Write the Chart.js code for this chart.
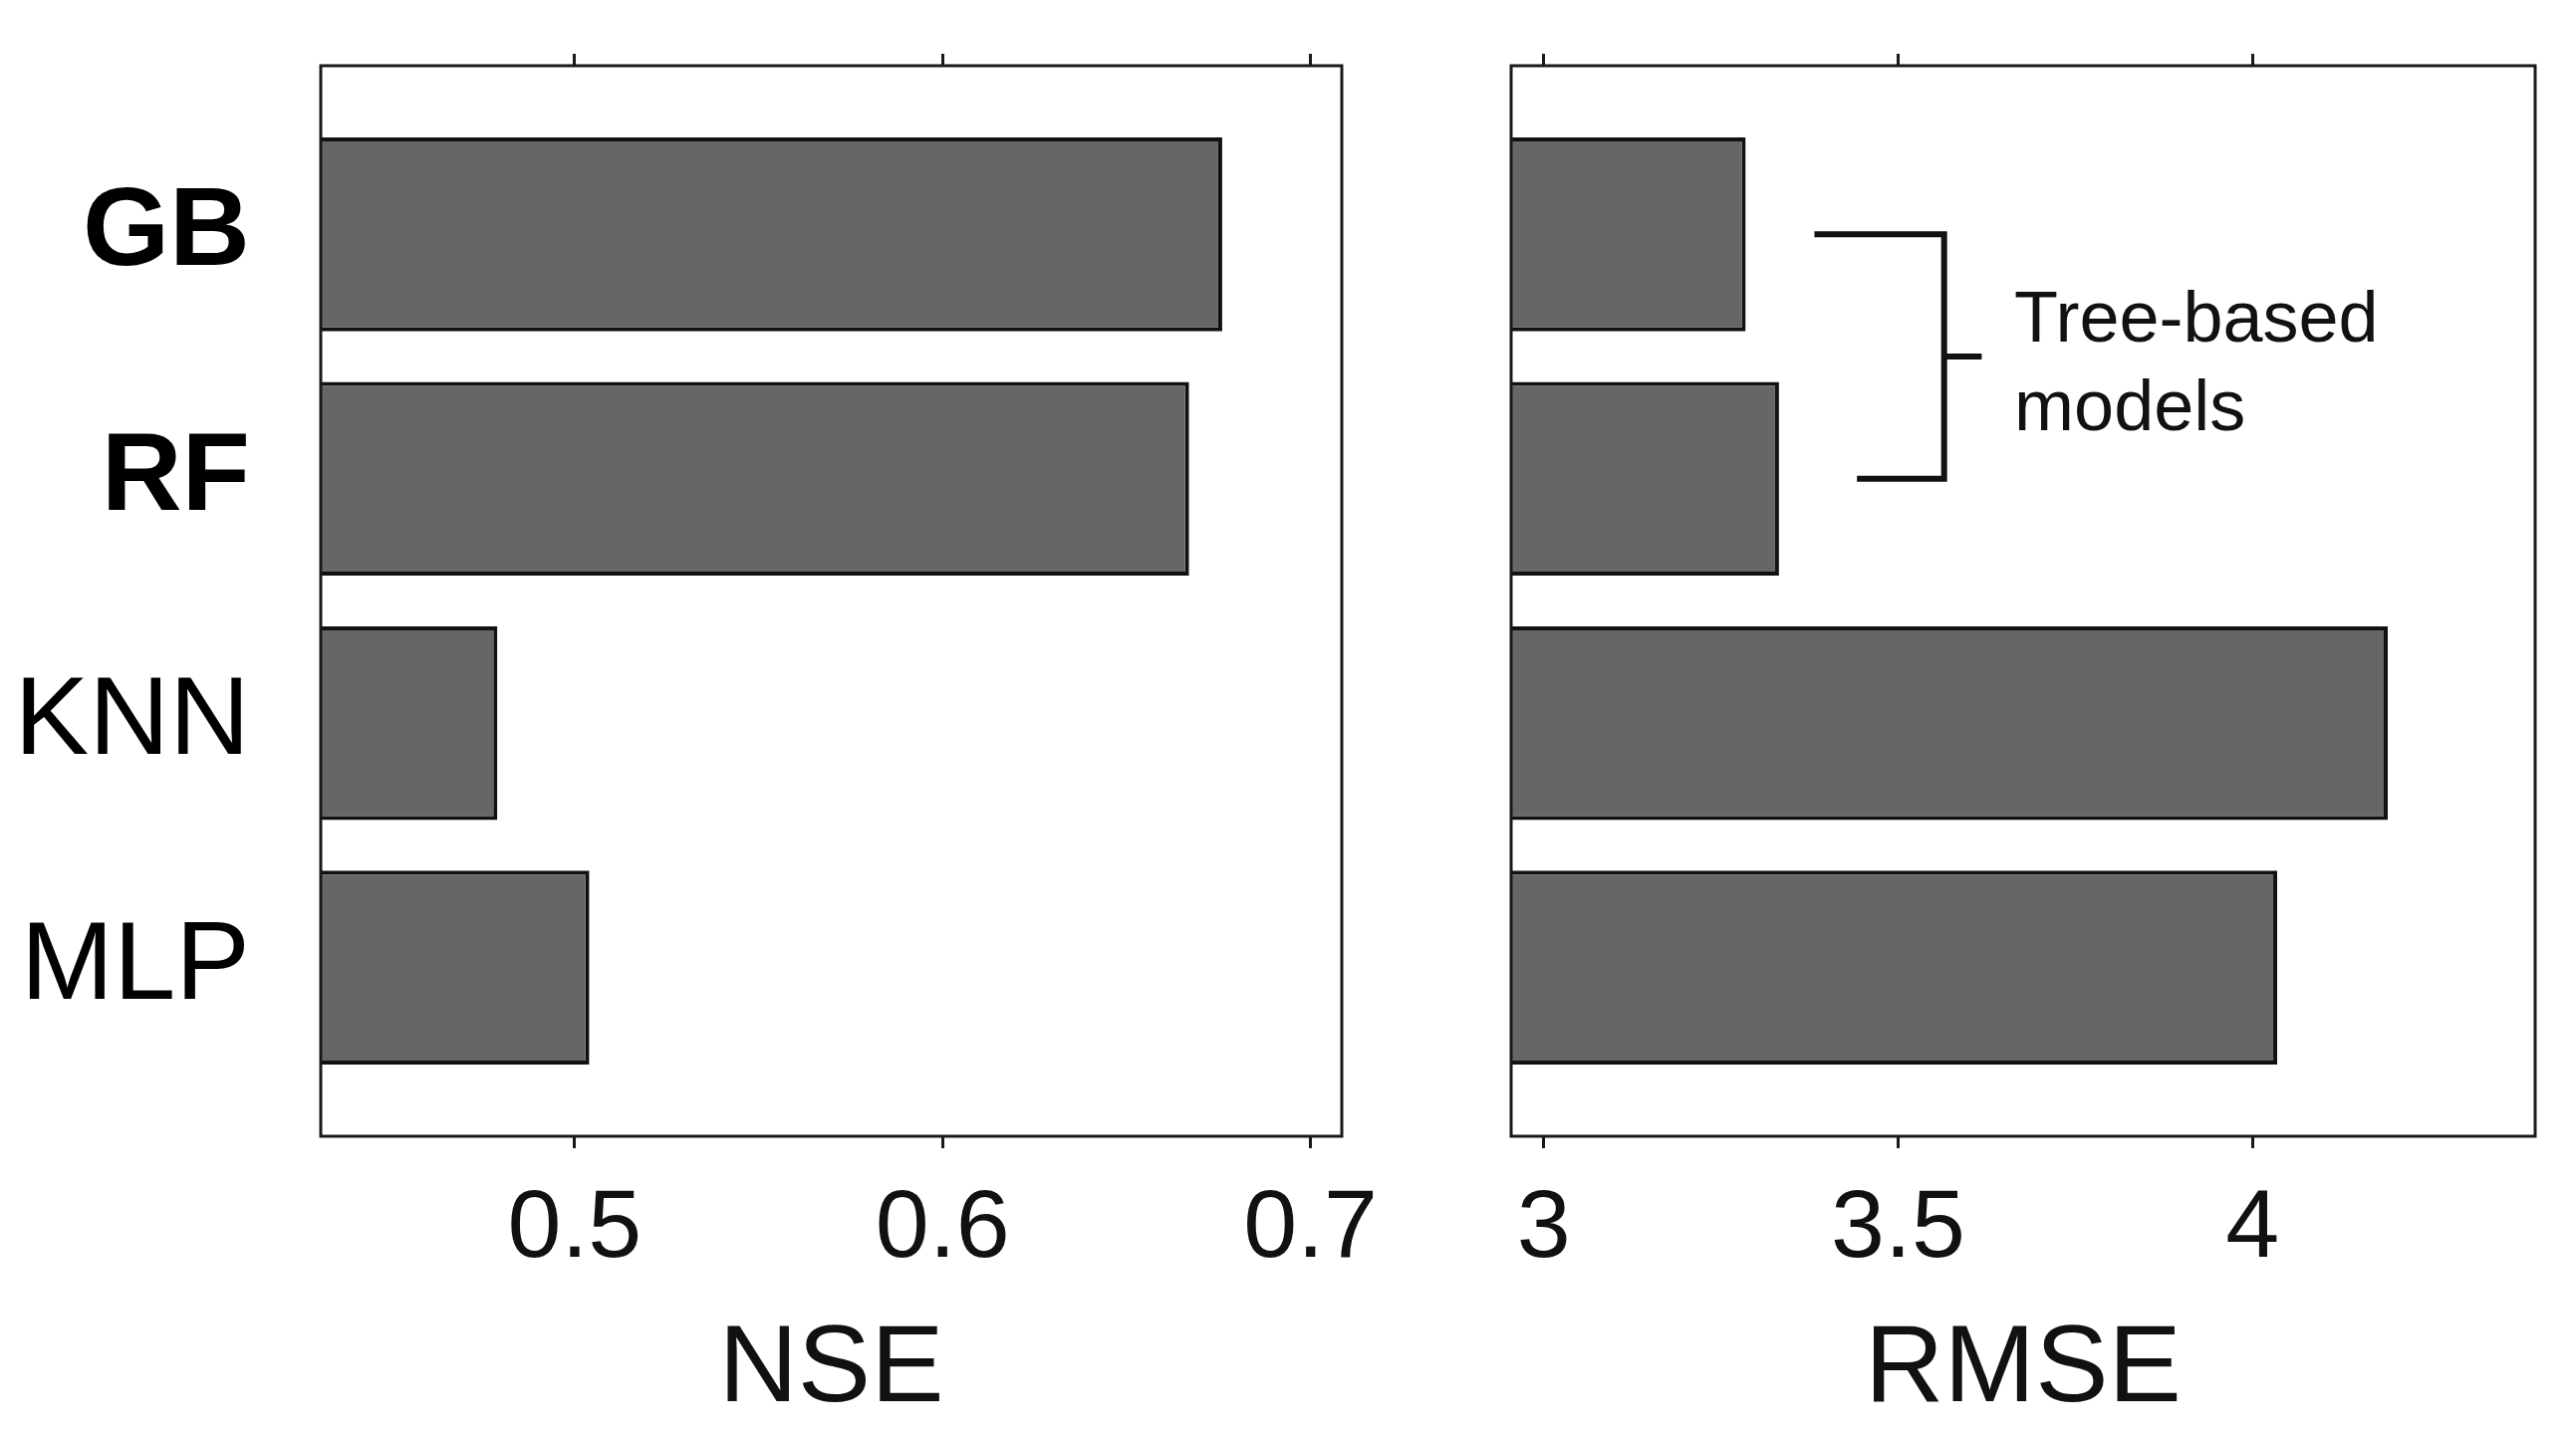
<!DOCTYPE html>
<html>
<head>
<meta charset="utf-8">
<title>NSE and RMSE by model</title>
<script src="https://cdn.jsdelivr.net/npm/chart.js@4.4.1/dist/chart.umd.min.js"></script>
<style>
  body { margin: 0; background: #fff; }
  #wrap { position: relative; width: 2586px; height: 1443px; }
  canvas { position: absolute; top: 0; }
  #nseChart { left: 0; }
  #rmseChart { left: 1400px; }
</style>
</head>
<body>
<div id="wrap">
  <canvas id="nseChart" width="1400" height="1443"></canvas>
  <canvas id="rmseChart" width="1186" height="1443"></canvas>
</div>
<script>
// DATA (models listed top to bottom)
const models = ['GB', 'RF', 'KNN', 'MLP'];
const boldModels = ['GB', 'RF'];
const nseValues = [0.676, 0.667, 0.479, 0.504];
const rmseValues = [3.285, 3.332, 4.191, 4.035];
const nseTicks = [0.5, 0.6, 0.7];
const rmseTicks = [3, 3.5, 4];
const nseRange = [0.431, 0.7085];
const rmseRange = [2.954, 4.399];
const treeModels = ['GB', 'RF'];
const treeLabel = ['Tree-based', 'models'];

Chart.defaults.font.family = "'Liberation Sans', Arial, sans-serif";
Chart.defaults.color = '#111';

const ink = '#1a1a1a';

// draws the box round the plot area
const framePlugin = {
    id: 'frame',
    afterDraw(chart) {
        const { ctx, chartArea: a } = chart;
        ctx.save();
        ctx.strokeStyle = ink;
        ctx.lineWidth = 3;
        ctx.strokeRect(a.left, a.top, a.right - a.left, a.bottom - a.top);
        ctx.restore();
    }
};

// bracket + "Tree-based models" note on the RMSE panel
const bracketPlugin = {
    id: 'bracket',
    afterDraw(chart) {
        const { ctx, scales: { x, y } } = chart;
        const yTop = y.getPixelForValue(models.indexOf(treeModels[0]));
        const yBot = y.getPixelForValue(models.indexOf(treeModels[1]));
        const yMid = (yTop + yBot) / 2;
        const xSpine = x.getPixelForValue(3.565);
        ctx.save();
        ctx.strokeStyle = '#111';
        ctx.lineWidth = 6;
        ctx.beginPath();
        ctx.moveTo(x.getPixelForValue(3.382), yTop);
        ctx.lineTo(xSpine, yTop);
        ctx.lineTo(xSpine, yBot);
        ctx.lineTo(x.getPixelForValue(3.442), yBot);
        ctx.moveTo(xSpine, yMid);
        ctx.lineTo(x.getPixelForValue(3.618), yMid);
        ctx.stroke();

        ctx.fillStyle = '#111';
        ctx.font = "72px 'Liberation Sans', Arial, sans-serif";
        ctx.textAlign = 'left';
        ctx.textBaseline = 'alphabetic';
        const tx = x.getPixelForValue(3.664);
        ctx.fillText(treeLabel[0], tx, yMid - 15);
        ctx.fillText(treeLabel[1], tx, yMid + 74);
        ctx.restore();
    }
};

function barPoints(values) {
    return values.map((v, i) => ({ x: v, y: i }));
}

// bottom axis with labels + title, top axis only carries tick marks
function valueAxes(range, ticks, title) {
    const tickMarks = { drawOnChartArea: false, drawTicks: true, tickLength: 12, color: ink, lineWidth: 3 };
    return {
        x: {
            type: 'linear',
            position: 'bottom',
            min: range[0],
            max: range[1],
            afterBuildTicks: s => { s.ticks = ticks.map(v => ({ value: v })); },
            afterFit: s => { s.height = 302; s.paddingLeft = 0; s.paddingRight = 0; },
            grid: tickMarks,
            border: { display: false },
            ticks: {
                font: { size: 97 },
                color: '#111',
                padding: 24,
                maxRotation: 0,
                autoSkip: false,
                callback: v => String(v)
            },
            title: {
                display: true,
                text: title,
                font: { size: 110, lineHeight: 1.2 },
                color: '#111',
                padding: { top: 0, bottom: 0 }
            }
        },
        x2: {
            type: 'linear',
            position: 'top',
            min: range[0],
            max: range[1],
            afterBuildTicks: s => { s.ticks = ticks.map(v => ({ value: v })); },
            afterFit: s => { s.height = 66; s.paddingLeft = 0; s.paddingRight = 0; },
            grid: tickMarks,
            border: { display: false },
            ticks: { display: false }
        }
    };
}

// model axis is linear (index 0..3) so the empty band above/below the bars can be set
function modelAxis(showLabels) {
    return {
        type: 'linear',
        reverse: true,
        offset: false,
        min: -0.69,
        max: models.length - 1 + 0.69,
        display: showLabels,
        afterBuildTicks: s => { s.ticks = models.map((m, i) => ({ value: i })); },
        afterFit: s => {
            s.width = showLabels ? 322 : 0;
            s.paddingTop = 0;
            s.paddingBottom = 0;
        },
        grid: { display: false, drawTicks: false },
        border: { display: false },
        ticks: {
            padding: 71,
            color: '#000',
            callback: v => models[v],
            font: c => ({
                size: 112,
                weight: boldModels.includes(models[c.index]) ? 'bold' : 'normal'
            })
        }
    };
}

function barDataset(values) {
    return {
        data: barPoints(values),
        backgroundColor: '#666666',
        borderColor: '#111',
        borderWidth: 4,
        borderSkipped: false,
        categoryPercentage: 1,
        barPercentage: 0.793
    };
}

const nseChart = new Chart(document.getElementById('nseChart'), {
    type: 'bar',
    data: { datasets: [barDataset(nseValues)] },
    options: {
        indexAxis: 'y',
        responsive: false,
        animation: false,
        layout: { autoPadding: false, padding: { left: 0, right: 53, top: 0, bottom: 0 } },
        scales: Object.assign(valueAxes(nseRange, nseTicks, 'NSE'), { y: modelAxis(true) }),
        plugins: { legend: { display: false }, tooltip: { enabled: false } }
    },
    plugins: [framePlugin]
});

const rmseChart = new Chart(document.getElementById('rmseChart'), {
    type: 'bar',
    data: { datasets: [barDataset(rmseValues)] },
    options: {
        indexAxis: 'y',
        responsive: false,
        animation: false,
        layout: { autoPadding: false, padding: { left: 117, right: 41, top: 0, bottom: 0 } },
        scales: Object.assign(valueAxes(rmseRange, rmseTicks, 'RMSE'), { y: modelAxis(false) }),
        plugins: { legend: { display: false }, tooltip: { enabled: false } }
    },
    plugins: [framePlugin, bracketPlugin]
});
</script>
</body>
</html>
